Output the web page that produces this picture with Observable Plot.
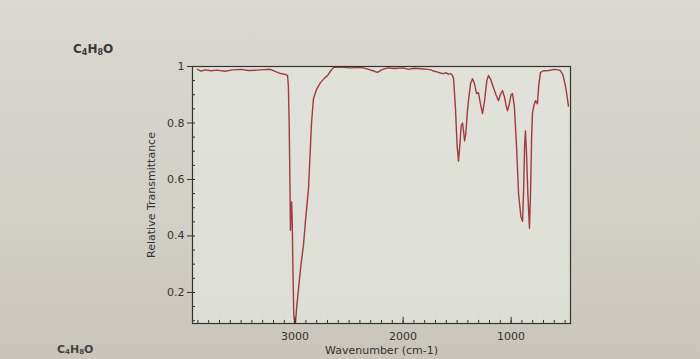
<!DOCTYPE html>
<html>
<head>
<meta charset="utf-8">
<script src="https://cdn.jsdelivr.net/npm/d3@7"></script>
<script src="https://cdn.jsdelivr.net/npm/@observablehq/plot@0.6"></script>
<style>
  html, body { margin:0; padding:0; }
  body { width:700px; height:359px; overflow:hidden; position:relative;
         background: linear-gradient(180deg, #dad8d1 0%, #d2cfc7 60%, #c9c5bc 100%);
         font-family: "DejaVu Sans", sans-serif; }
  #title { position:absolute; left:73px; top:42px; font-size:12px; font-weight:bold; color:#3a3a3a; }
  #title sub { font-size:8px; vertical-align:-2px; }
  #foot { position:absolute; left:57px; top:343px; font-size:11px; line-height:13px; font-weight:bold; color:#444; }
  #foot sub { font-size:7px; vertical-align:-1px; }
  #chart { position:absolute; left:0; top:0; }
</style>
</head>
<body>
<div id="title">C<sub>4</sub>H<sub>8</sub>O</div>
<div id="foot">C<sub>4</sub>H<sub>8</sub>O</div>
<div id="chart"></div>
<script>
const wavenumber = [3904,3870,3830,3780,3720,3650,3580,3500,3430,3360,3290,3228,3180,3135,3090,3070,3062,3055,3048,3043,3037,3032,3027,3020,3012,3004,2996,2985,2969,2945,2922,2900,2876,2860,2848,2830,2800,2765,2730,2700,2670,2644,2626,2560,2480,2420,2367,2320,2280,2237,2200,2144,2080,2000,1950,1900,1840,1774,1740,1719,1680,1650,1626,1600,1580,1561,1545,1533,1515,1500,1487,1475,1462,1450,1440,1431,1420,1405,1394,1375,1357,1340,1320,1302,1285,1265,1245,1225,1209,1190,1163,1140,1117,1100,1080,1060,1045,1033,1015,1000,987,970,950,931,910,894,885,875,867,858,845,830,820,810,802,790,774,756,745,728,700,650,600,560,543,520,496,480,469];
const transmittance = [0.990,0.984,0.988,0.985,0.987,0.983,0.988,0.990,0.986,0.987,0.989,0.990,0.982,0.975,0.972,0.968,0.93,0.80,0.60,0.42,0.50,0.52,0.46,0.28,0.12,0.09,0.095,0.15,0.21,0.30,0.37,0.47,0.566,0.70,0.80,0.886,0.92,0.943,0.958,0.968,0.985,0.996,0.998,0.997,0.995,0.997,0.995,0.990,0.985,0.979,0.988,0.995,0.993,0.995,0.990,0.994,0.992,0.990,0.988,0.984,0.980,0.976,0.975,0.978,0.972,0.975,0.970,0.958,0.85,0.72,0.665,0.72,0.79,0.80,0.77,0.737,0.76,0.84,0.88,0.94,0.957,0.94,0.904,0.907,0.87,0.833,0.88,0.95,0.968,0.955,0.925,0.90,0.879,0.90,0.915,0.89,0.86,0.843,0.87,0.90,0.904,0.86,0.72,0.55,0.47,0.452,0.55,0.72,0.772,0.70,0.55,0.427,0.55,0.75,0.836,0.86,0.879,0.868,0.93,0.979,0.985,0.986,0.990,0.988,0.985,0.97,0.93,0.89,0.86];
const xMajorTicks = [3000, 2000, 1000];
const xMinorTicks = d3.range(3900, 400, -100);
const yMajorTicks = [0.2, 0.4, 0.6, 0.8, 1];
const yMinorTicks = d3.range(0.1, 1.0001, 0.05).map(v => +v.toFixed(2));
const xDomain = [3950, 450];
const yDomain = [0.09, 1];

const spectrum = wavenumber.map((w, i) => ({w, t: transmittance[i]}));

const ink = "#333";
const chart = Plot.plot({
  width: 700, height: 359,
  marginLeft: 192, marginRight: 130, marginTop: 66, marginBottom: 36,
  style: {background: "transparent", fontFamily: "DejaVu Sans, sans-serif", fontSize: "11px", color: ink},
  x: {domain: xDomain},
  y: {domain: yDomain},
  marks: [
    Plot.frame({fill: "#e3e5dd", fillOpacity: 0.75, stroke: "none"}),
    Plot.line(spectrum, {x: "w", y: "t", stroke: "#a23a3e", strokeWidth: 1.4}),
    Plot.ruleX(xMinorTicks, {x: d => d, y1: yDomain[0], y2: yDomain[0] + 0.011, stroke: ink}),
    Plot.ruleX(xMajorTicks, {x: d => d, y1: yDomain[0], y2: yDomain[0] + 0.022, stroke: ink}),
    Plot.ruleY(yMinorTicks, {y: d => d, x1: xDomain[0], x2: xDomain[0] - 28, stroke: ink}),
    Plot.axisX({ticks: xMajorTicks, tickSize: 0, tickPadding: 9, tickFormat: d => String(d), label: "Wavenumber (cm-1)", labelAnchor: "center", labelArrow: "none", labelOffset: 30, fontSize: 11}),
    Plot.axisY({ticks: yMajorTicks, tickSize: 5, tickPadding: 3, tickFormat: d => String(d), label: "Relative Transmittance", labelAnchor: "center", labelArrow: "none", labelOffset: 45, fontSize: 11}),
    Plot.frame({stroke: ink, strokeWidth: 1.2})
  ]
});
document.getElementById("chart").append(chart);
</script>
</body>
</html>
